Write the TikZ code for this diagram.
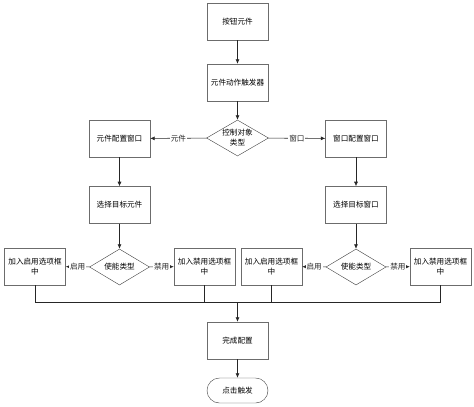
\documentclass[tikz,border=0pt]{standalone}
\usepackage{fontspec}
\setmainfont{Noto Sans CJK SC}
\usetikzlibrary{arrows.meta, positioning, shapes.geometric}

\begin{document}
\begin{tikzpicture}[x=1pt, y=-1pt, font=\fontsize{7.6}{10}\selectfont,
  box/.style={draw=gray!85!black, minimum width=61pt, minimum height=37pt, align=center, inner sep=1pt},
  choice/.style={diamond, draw=black!75, aspect=1.7, inner sep=0pt, minimum width=60pt, minimum height=36pt, align=center},
  term/.style={draw=black!75, rounded corners=12.5pt, minimum width=61pt, minimum height=25pt},
  flow/.style={-{Latex[length=4.5pt,width=4pt]}, black!85, line width=0.6pt},
  tag/.style={fill=white, inner sep=1pt}]
\useasboundingbox (0,0) rectangle (474,407);

\node[box] (btn) at (237.5,21.5) {按钮元件};
\node[box] (trig) at (237.5,82.5) {元件动作触发器};
\node[choice, minimum width=62pt] (ctl) at (237.5,138) {控制对象\\类型};

\node[box] (cfgA) at (119.5,138.5) {元件配置窗口};
\node[box] (cfgB) at (356,138.5) {窗口配置窗口};
\node[box] (selA) [below=29pt of cfgA] {选择目标元件};
\node[box] (selB) [below=29pt of cfgB] {选择目标窗口};

\node[choice] (enA) at (119.5,267) {使能类型};
\node[choice] (enB) at (356,267) {使能类型};
\node[box] (addA1) at (35,266.5) {加入启用选项框\\中};
\node[box] (addA2) at (204.5,266.5) {加入禁用选项框\\中};
\node[box] (addB1) at (271.5,266.5) {加入启用选项框\\中};
\node[box] (addB2) at (440.5,266.5) {加入禁用选项框\\中};

\coordinate (bus) at (237.5,302);
\node[box] (done) at (237.5,340.5) {完成配置};
\node[term] (click) at (237.5,390.5) {点击触发};

% main column
\draw[flow] (btn) -- (trig);
\draw[flow] (trig) -- (ctl);
\draw[flow] (ctl) -- node[tag]{元件} (cfgA);
\draw[flow] (ctl) -- node[tag]{窗口} (cfgB);
\draw[flow] (cfgA) -- (selA);
\draw[flow] (cfgB) -- (selB);
\draw[flow] (selA) -- (enA);
\draw[flow] (selB) -- (enB);

% enable / disable
\draw[flow] (enA) -- node[tag]{启用} (addA1);
\draw[flow] (enA) -- node[tag]{禁用} (addA2);
\draw[flow] (enB) -- node[tag]{启用} (addB1);
\draw[flow] (enB) -- node[tag]{禁用} (addB2);

% merge
\draw[black!85, line width=0.6pt] (addA1.south) -- (addA1.south |- bus) -- (addB2.south |- bus) -- (addB2.south);
\draw[black!85, line width=0.6pt] (addA2.south) -- (addA2.south |- bus);
\draw[black!85, line width=0.6pt] (addB1.south) -- (addB1.south |- bus);
\draw[flow] (bus) -- (done);
\draw[flow] (done) -- (click);
\end{tikzpicture}
\end{document}
